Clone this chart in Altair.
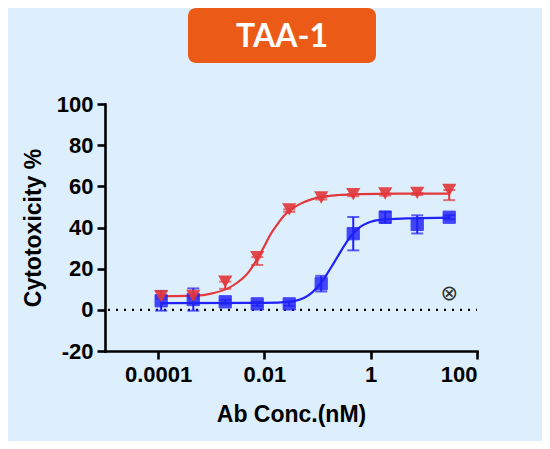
import altair as alt
import pandas as pd

# ---------------- data ----------------
conc = [0.000114, 0.000458, 0.00183, 0.00732, 0.0293, 0.117, 0.469, 1.875, 7.5, 30]

red_name = "Series A"
red_mean = [6.6, 6.8, 13.7, 25.6, 48.8, 54.6, 56.2, 56.5, 56.8, 58.2]
red_err = [1.2, 1.2, 3.5, 3.8, 1.2, 1.0, 1.0, 1.0, 1.0, 4.9]

blue_name = "Series B"
blue_mean = [4.4, 5.0, 3.9, 2.9, 2.9, 12.7, 37.0, 45.0, 41.5, 45.0]
blue_err = [4.8, 5.4, 1.0, 1.0, 1.0, 3.8, 8.1, 2.7, 4.4, 1.0]

# fitted curves, points
red_curve_x = [0.000114, 0.0005, 0.001, 0.002, 0.00316, 0.005, 0.0074, 0.01, 0.0129,
               0.0178, 0.0229, 0.0316, 0.0479, 0.0794, 0.115, 0.251, 0.631, 3.16, 30]
red_curve_y = [6.6, 6.9, 7.9, 10.3, 13.4, 18.2, 25.0, 31.0, 36.5,
               41.8, 45.5, 48.7, 51.6, 53.8, 54.8, 55.8, 56.2, 56.5, 56.5]
blue_curve_x = [0.000114, 0.01, 0.0316, 0.055, 0.0794, 0.115, 0.151, 0.2, 0.275,
                0.372, 0.501, 0.646, 0.891, 1.15, 2.09, 6.31, 30]
blue_curve_y = [3.3, 3.4, 4.0, 5.7, 8.5, 12.9, 17.5, 22.6, 28.5,
                33.9, 38.0, 40.4, 42.3, 43.2, 44.0, 44.5, 44.8]

ctrl_x = [30]
ctrl_y = [7.8]
ctrl_label = ["\u2297"]

title_text = ["TAA-1"]
x_ticks = [0.0001, 0.01, 1, 100]
y_ticks = [-20, 0, 20, 40, 60, 80, 100]
zero_line = [0]

# ---------------- tables ----------------
pts = pd.DataFrame({
    "conc": conc * 2,
    "mean": red_mean + blue_mean,
    "err": red_err + blue_err,
    "series": [red_name] * len(conc) + [blue_name] * len(conc),
})
curves = pd.DataFrame({
    "conc": red_curve_x + blue_curve_x,
    "val": red_curve_y + blue_curve_y,
    "series": [red_name] * len(red_curve_x) + [blue_name] * len(blue_curve_x),
})
ctrl = pd.DataFrame({"conc": ctrl_x, "val": ctrl_y, "label": ctrl_label})
zero_df = pd.DataFrame({"val": zero_line})
title_df = pd.DataFrame({"t": title_text})

RED = "#E2383C"
BLUE = "#2020F8"
FONT = "Liberation Sans"

xscale = alt.Scale(type="log", domain=[1e-5, 100], nice=False)
yscale = alt.Scale(domain=[-20, 100], nice=False, zero=False)
cscale = alt.Scale(domain=[red_name, blue_name], range=[RED, BLUE])

xaxis = alt.Axis(values=x_ticks, format="~g", title="Ab Conc.(nM)",
                 tickSize=8, labelPadding=5, titlePadding=18,
                 domainWidth=2.6, tickWidth=2.6, domainCap="square")
yaxis = alt.Axis(values=y_ticks, title="Cytotoxicity %", tickSize=8,
                 labelPadding=4, titlePadding=11,
                 labelExpr="replace(datum.label, '\u2212', '-')",
                 domainWidth=2.6, tickWidth=2.6, domainCap="square")


def X(field):
    return alt.X(field, scale=xscale, axis=xaxis)


def Y(field):
    return alt.Y(field, scale=yscale, axis=yaxis)


# red series shows only the lower half of its error bars (as in the reference)
err_calc = dict(
    lo="datum.mean - datum.err",
    hi="datum.series == '%s' ? datum.mean : datum.mean + datum.err" % red_name,
)

zero = alt.Chart(zero_df).mark_rule(
    color="black", strokeWidth=2.2, strokeDash=[2, 6], strokeDashOffset=-7
).encode(y=Y("val:Q"))

lines = alt.Chart(curves).mark_line(strokeWidth=2.2, interpolate="monotone").encode(
    x=X("conc:Q"),
    y=Y("val:Q"),
    color=alt.Color("series:N", scale=cscale, legend=None),
    detail="series:N",
)

bars = alt.Chart(pts).transform_calculate(**err_calc).mark_rule(strokeWidth=2).encode(
    x=X("conc:Q"),
    y=Y("lo:Q"),
    y2="hi:Q",
    color=alt.Color("series:N", scale=cscale, legend=None),
)

caps = alt.Chart(pts).transform_calculate(**err_calc).transform_fold(
    ["lo", "hi"], as_=["end", "cap"]
).mark_tick(orient="horizontal", size=12, thickness=2).encode(
    x=X("conc:Q"),
    y=Y("cap:Q"),
    color=alt.Color("series:N", scale=cscale, legend=None),
)

blue_pts = alt.Chart(pts).transform_filter(
    alt.datum.series == blue_name
).mark_point(shape="square", filled=True, size=150, opacity=0.82, color=BLUE,
             stroke=BLUE, strokeWidth=1).encode(
    x=X("conc:Q"),
    y=Y("mean:Q"),
)

red_pts = alt.Chart(pts).transform_filter(
    alt.datum.series == red_name
).mark_point(shape="triangle-down", filled=True, size=205, opacity=0.92, color=RED).encode(
    x=X("conc:Q"),
    y=Y("mean:Q"),
)

ctrl_mark = alt.Chart(ctrl).mark_text(
    font="DejaVu Sans", fontSize=21, color="#333333", baseline="middle", align="center"
).encode(
    x=X("conc:Q"),
    y=Y("val:Q"),
    text="label:N",
)

badge = alt.Chart(title_df).mark_rect(color="#EB5A17", cornerRadius=8).encode(
    x=alt.value(83), x2=alt.value(271), y=alt.value(-96), y2=alt.value(-41)
)
badge_text = alt.Chart(title_df).mark_text(
    font="Lato", fontWeight="bold", fontSize=32, color="white",
    align="center", baseline="middle"
).encode(x=alt.value(177), y=alt.value(-67), text="t:N")

chart = alt.layer(
    zero, lines, bars, caps, blue_pts, red_pts, ctrl_mark, badge, badge_text
).properties(
    width=372, height=247,
    autosize=alt.AutoSizeParams(type="none"),
    padding={"left": 97, "top": 96, "right": 65, "bottom": 90},
    background="#DDEFFC",
).configure_view(strokeWidth=0).configure_axis(
    grid=False, domainColor="black", tickColor="black",
    labelColor="black", titleColor="black",
    labelFont=FONT, labelFontWeight="bold", labelFontSize=22,
    titleFont=FONT, titleFontWeight="bold", titleFontSize=23,
)

chart.save("out.html", embed_options={"renderer": "svg", "actions": False})
